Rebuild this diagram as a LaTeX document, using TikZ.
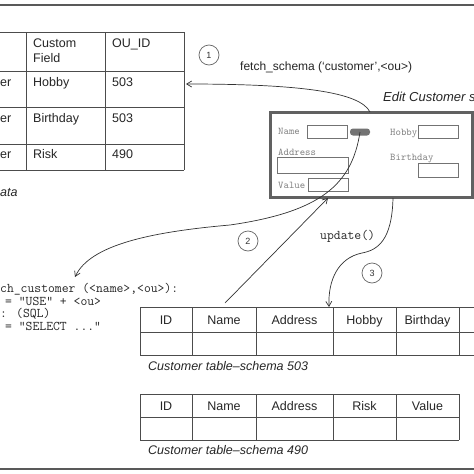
\documentclass[tikz,border=0pt]{standalone}
\usepackage{fontspec}
\setmainfont{Liberation Sans}
\usetikzlibrary{arrows.meta}
\begin{document}
\begin{tikzpicture}[x=1pt,y=-1pt,
  frame/.style={line width=1.6pt, draw=black!65},
  tbl/.style={line width=0.9pt, draw=black!70},
  sf/.style={font=\fontsize{12.5}{15}\selectfont, inner sep=0, text=black!85, anchor=base west},
  hd/.style={font=\fontsize{12.5}{15}\selectfont, inner sep=0, text=black!85, anchor=base},
  capt/.style={font=\itshape\fontsize{12.5}{15}\selectfont, inner sep=0, text=black!85, anchor=base west},
  code/.style={font=\ttfamily\fontsize{13.3}{15}\selectfont, inner sep=0, text=black!85, anchor=base west},
  lbl/.style={font=\ttfamily\fontsize{10.3}{11}\selectfont, text=black!50, inner sep=0, anchor=base west},
  fld/.style={draw=black!55, line width=0.8pt, fill=white},
  num/.style={circle, draw=black!60, line width=0.7pt, minimum size=20pt, inner sep=0, font=\fontsize{9}{10}\selectfont, text=black!80},
  arr/.style={-{Straight Barb[length=5pt,width=6pt]}, line width=0.7pt, draw=black!80}]
\useasboundingbox (0,0) rectangle (474,474);
\fill[white] (0,0) rectangle (474,474);
% frame lines
\draw[frame] (0,5) -- (474,5);
\draw[frame] (0,469) -- (474,469);

% top-left metadata table
\foreach \y in {32,71,107,144,170} \draw[tbl] (0,\y) -- (184,\y);
\foreach \x in {26,105,184} \draw[tbl] (\x,32) -- (\x,170);
\node[sf] (h1a) at (33,47.5) {Custom};
\node[sf] (h1b) at (33,62.5) {Field};
\node[sf] (h2) at (112,47.5) {OU\_ID};
\node[sf] (r1a) at (0,86.5) {er};
\node[sf] (r1b) at (33,86.5) {Hobby};
\node[sf] (r1c) at (112,86.5) {503};
\node[sf] (r2a) at (0,122.5) {er};
\node[sf] (r2b) at (33,122.5) {Birthday};
\node[sf] (r2c) at (112,122.5) {503};
\node[sf] (r3a) at (0,158.5) {er};
\node[sf] (r3b) at (33,158.5) {Risk};
\node[sf] (r3c) at (112,158.5) {490};
\node[capt] (metacap) at (0,196.5) {ata};

% labels
\node[sf, font=\fontsize{12}{14}\selectfont] (fs) at (240,70) {fetch\_schema (‘customer’,<ou>)};
\node[capt, font=\itshape\fontsize{13}{15}\selectfont] (ecs) at (383,101.5) {Edit Customer s};
\node[num] (c1) at (209,55) {1};
\node[num] (c2) at (248,241) {2};
\node[num] (c3) at (372,273) {3};
\node[code] (upd) at (320,239) {update()};

% edit box
\node[draw=black!62, line width=3pt, minimum width=202pt, minimum height=85pt, inner sep=0] (edit) at (371,154.5) {};
\draw[fld] (307,125) rectangle (347,138);
\draw[fld] (418,125) rectangle (458,138);
\draw[fld] (277,157) rectangle (348,173);
\draw[fld] (418,163) rectangle (458,177);
\draw[fld] (308,178) rectangle (348,191);
\node[fill=black!55, rounded corners=3pt, minimum width=20pt, minimum height=7pt, inner sep=0] (btn) at (360,132) {};
\node[lbl] (ln) at (278,134) {Name};
\node[lbl] (lh) at (390,135) {Hobby};
\node[lbl] (la) at (278,155) {Address};
\node[lbl] (lb) at (390,160) {Birthday};
\node[lbl] (lv) at (278,188) {Value};

% code
\node[code] (k1) at (0,292.5) {ch\_customer (<name>,<ou>):};
\node[code] (k2) at (5,305.5) {= "USE" + <ou>};
\node[code] (k3) at (0,317.5) {: (SQL)};
\node[code] (k4) at (5,330.5) {= "SELECT ..."};

% table 503
\foreach \y in {307,332,355} \draw[tbl] (140,\y) -- (480,\y);
\foreach \x in {140,192,256,333,396,459} \draw[tbl] (\x,307) -- (\x,355);
\node[hd] (t1) at (166,324.5) {ID};
\node[hd] (t2) at (224,324.5) {Name};
\node[hd] (t3) at (294.5,324.5) {Address};
\node[hd] (t4) at (364.5,324.5) {Hobby};
\node[hd] (t5) at (427.5,324.5) {Birthday};
\node[capt] (cap1) at (148,370.5) {Customer table–schema 503};

% table 490
\foreach \y in {394,417,440} \draw[tbl] (140,\y) -- (459,\y);
\foreach \x in {140,192,256,333,396,459} \draw[tbl] (\x,394) -- (\x,440);
\node[hd] (u1) at (166,410.5) {ID};
\node[hd] (u2) at (224,410.5) {Name};
\node[hd] (u3) at (294.5,410.5) {Address};
\node[hd] (u4) at (364.5,410.5) {Risk};
\node[hd] (u5) at (427.5,410.5) {Value};
\node[capt] (cap2) at (148,454.5) {Customer table–schema 490};

% connectors
\coordinate (a1s) at (370,112);
\coordinate (a1e) at (186,84);
\draw[arr] (a1s) .. controls (360,92) and (300,84) .. (a1e);
\coordinate (a2s) at (225,303);
\coordinate (a2e) at (328,198);
\draw[arr] (a2s) -- (a2e);
\coordinate (a3s) at (393,198);
\coordinate (a3m) at (362,253);
\coordinate (a3e) at (329,307);
\draw[arr] (a3s) .. controls (392,240) and (378,250) .. (a3m) .. controls (338,258) and (328,280) .. (a3e);
\coordinate (a4m) at (230,225);
\coordinate (a4e) at (75,277);
\draw[arr] (btn.center) .. controls (352,185) and (320,212) .. (a4m) .. controls (150,232) and (90,245) .. (a4e);
\end{tikzpicture}
\end{document}
